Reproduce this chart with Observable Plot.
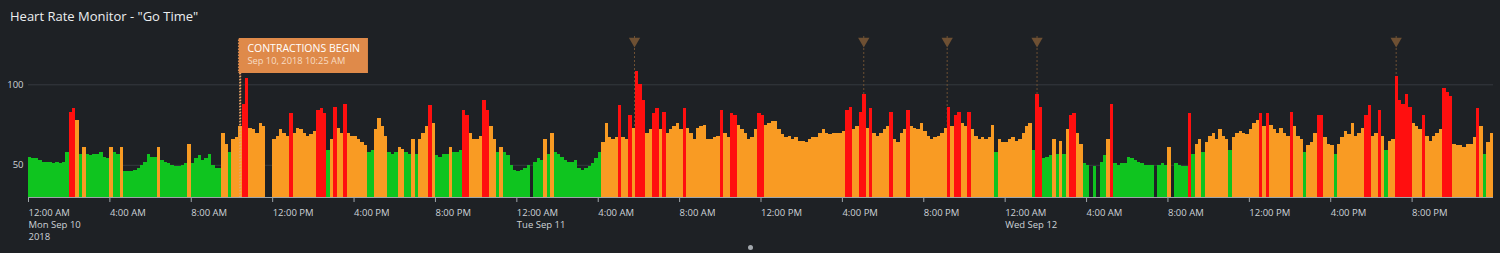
<!DOCTYPE html>
<html>
<head>
<meta charset="utf-8">
<script src="https://cdn.jsdelivr.net/npm/d3@7"></script>
<script src="https://cdn.jsdelivr.net/npm/@observablehq/plot@0.6"></script>
<style>
  html, body { margin: 0; padding: 0; background: #1e2125; }
  #chart { position: relative; width: 1500px; height: 253px; overflow: hidden; }
</style>
</head>
<body>
<div id="chart"></div>
<script>
// Heart rate, 10-minute buckets starting Mon Sep 10 2018 12:00 AM (null = no data)
const sep10 = [
  55,54,54,53,52,52,   // 0h
  52,51,52,51,52,58,   // 1h
  83,85,78,57,61,57,   // 2h
  56,57,57,58,55,54,   // 3h
  61,58,57,61,46,46,   // 4h
  46,47,48,50,52,57,   // 5h
  55,55,61,53,52,51,   // 6h
  50,49,49,50,51,63,   // 7h
  51,54,56,53,54,57,   // 8h
  50,48,48,70,63,58,   // 9h
  66,67,74,88,104,73,  // 10h
  72,70,76,74,null,null, // 11h
  66,68,72,70,68,82,   // 12h
  70,73,72,70,68,69,   // 13h
  71,84,85,82,59,66,   // 14h
  86,73,70,88,70,68,   // 15h
  68,66,64,62,58,59,   // 16h
  72,79,74,68,58,57,   // 17h
  58,61,60,58,57,66,   // 18h
  57,66,70,74,87,76,   // 19h
  56,55,57,57,61,58,   // 20h
  58,59,84,81,70,66,   // 21h
  66,68,90,84,74,66,   // 22h
  58,61,58,56,50,47    // 23h
];
const sep11 = [
  46,47,48,50,null,52, // 0h
  54,53,66,57,70,58,   // 1h
  57,55,53,52,52,53,   // 2h
  48,47,48,49,51,54,   // 3h
  58,64,76,67,66,67,   // 4h
  87,67,66,81,73,108,  // 5h
  100,90,70,72,82,85,  // 6h
  72,83,70,72,74,76,   // 7h
  72,85,73,70,66,73,   // 8h
  74,75,66,66,67,68,   // 9h
  84,70,67,82,81,75,   // 10h
  72,70,66,67,72,82,   // 11h
  81,75,76,77,77,72,   // 12h
  69,67,68,66,67,65,   // 13h
  65,64,66,67,67,70,   // 14h
  72,70,69,70,70,70,   // 15h
  71,84,86,72,74,83,   // 16h
  94,73,85,70,68,70,   // 17h
  72,74,83,66,64,70,   // 18h
  72,84,74,73,72,76,   // 19h
  71,68,66,67,68,70,   // 20h
  73,86,74,81,83,76,   // 21h
  74,83,72,68,66,67,   // 22h
  66,67,75,58,66,64    // 23h
];
const sep12 = [
  64,66,67,65,66,70,   // 0h
  74,76,59,94,86,54,   // 1h
  55,56,66,57,65,57,   // 2h
  72,81,82,70,63,51,   // 3h
  50,null,49,null,52,56, // 4h
  66,88,51,50,51,51,   // 5h
  55,54,53,52,51,50,   // 6h
  50,50,null,50,51,50, // 7h
  61,null,51,50,49,49, // 8h
  82,57,63,66,58,64,   // 9h
  68,70,66,72,68,66,   // 10h
  59,67,70,71,70,69,   // 11h
  72,76,78,82,74,82,   // 12h
  75,72,70,73,70,68,   // 13h
  83,74,68,66,58,62,   // 14h
  64,70,81,81,67,63,   // 15h
  62,57,63,67,71,69,   // 16h
  76,68,70,73,81,87,   // 17h
  68,70,84,68,59,65,   // 18h
  66,105,90,88,94,86,  // 19h
  76,74,72,81,68,65,   // 20h
  68,70,72,98,95,93,   // 21h
  63,62,62,61,63,63,   // 22h
  67,85,74,57,64,70    // 23h
];

const levelNames = ["normal", "elevated", "high"];
const levelColors = ["#0fc41f", "#f99b23", "#ff0f0f"];
const levelThresholds = [60, 80];

const yTicks = [50, 100];
const markerTimes = ["2018-09-11T05:47Z", "2018-09-11T17:03Z", "2018-09-11T21:09Z", "2018-09-12T01:34Z", "2018-09-12T19:13Z"];
const contractionTime = "2018-09-10T10:25Z";
const contractionLabel = "CONTRACTIONS BEGIN";
const contractionSub = "Sep 10, 2018 10:25 AM";
const titleText = 'Heart Rate Monitor - "Go Time"';

const startTime = new Date(Date.UTC(2018, 8, 10));
const endTime = new Date(Date.UTC(2018, 8, 13));
const step = 10 * 60 * 1000;
const values = [...sep10, ...sep11, ...sep12];
const data = values.map((v, i) => ({
  t0: new Date(+startTime + i * step),
  t1: new Date(+startTime + (i + 1) * step),
  v,
  level: v == null ? null : v >= levelThresholds[1] ? "high" : v >= levelThresholds[0] ? "elevated" : "normal"
})).filter(d => d.v != null);

const markers = markerTimes.map(s => new Date(s));
const cTime = new Date(contractionTime);
const xTicks = d3.utcHours(startTime, endTime, 4);
const fmtTime = d3.utcFormat("%-I:%M %p");
const fmtDay = d3.utcFormat("%a %b %-d");
const tickFmt = d => {
  let s = fmtTime(d);
  if (d.getUTCHours() === 0) {
    s += "\n" + fmtDay(d);
    if (+d === +startTime) s += "\n" + d.getUTCFullYear();
  }
  return s;
};

const plot = Plot.plot({
  width: 1500,
  height: 253,
  marginLeft: 28,
  marginRight: 7,
  marginTop: 36,
  marginBottom: 56,
  style: { background: "#1e2125", color: "#cdd2d7", fontFamily: "'Open Sans', sans-serif", fontSize: "9.5px" },
  x: { type: "utc", domain: [startTime, endTime], label: null },
  y: { domain: [30, 130], label: null },
  color: { domain: levelNames, range: levelColors },
  marks: [
    Plot.gridY(yTicks, { stroke: "#353a3f", strokeOpacity: 1 }),
    Plot.ruleX(markers, { stroke: "#6e5033", strokeDasharray: "2,2", strokeWidth: 1 }),
    Plot.rectY(data, { x1: "t0", x2: "t1", y1: 30, y2: "v", fill: "level", shapeRendering: "crispEdges" }),
    Plot.ruleY([30], { stroke: "#9ea4a9" }),
    Plot.axisY({ ticks: yTicks, tickSize: 0, tickPadding: 5, fontSize: 9.5, label: null }),
    Plot.axisX({ ticks: xTicks, tickFormat: tickFmt, tickSize: 5, tickPadding: 5, textAnchor: "start", lineHeight: 1.26, stroke: "#9ea4a9", fontSize: 9.5, label: null }),
    Plot.ruleX([cTime], { stroke: "#e9a266", strokeDasharray: "1.5,1.5", strokeWidth: 1.5, y1: 30, y2: 110 }),
    Plot.dot(markers, { x: d => d, frameAnchor: "top", dy: 4.5, symbol: "triangle", rotate: 180, r: 4.2, fill: "#6e5033", stroke: "none" })
  ]
});

// annotation box & title, positioned through the plot's own x scale
const xs = plot.scale("x");
const px = xs.apply(cTime);
const svg = d3.select(plot);
const g = svg.append("g").attr("text-anchor", "start");
g.append("rect").attr("x", px - 2).attr("y", 38).attr("width", 130).attr("height", 35).attr("fill", "#df8a4a");
g.append("line").attr("x1", px - 2).attr("x2", px - 2).attr("y1", 38).attr("y2", 73)
  .attr("stroke", "#1e2125").attr("stroke-width", 1.6).attr("stroke-dasharray", "1.5,1.5");
g.append("line").attr("x1", px).attr("x2", px).attr("y1", 73).attr("y2", 197)
  .attr("stroke", "#e9a266").attr("stroke-width", 1.5).attr("stroke-dasharray", "1.5,1.5");
g.append("text").attr("x", px + 7.5).attr("y", 52.3).attr("fill", "#ffffff").attr("text-anchor", "start")
  .attr("font-family", "'Open Sans', sans-serif").attr("font-size", 10.5).text(contractionLabel);
g.append("text").attr("x", px + 7.5).attr("y", 64.2).attr("fill", "#f7dcc3").attr("text-anchor", "start")
  .attr("font-family", "'Open Sans', sans-serif").attr("font-size", 9.3).text(contractionSub);
svg.append("text").attr("x", 10).attr("y", 20.5).attr("fill", "#eceef0").attr("text-anchor", "start")
  .attr("font-family", "'Open Sans', sans-serif").attr("font-size", 13).text(titleText);
svg.append("circle").attr("cx", 750.5).attr("cy", 247.5).attr("r", 2.5).attr("fill", "#a3a8ad");

document.getElementById("chart").appendChild(plot);
</script>
</body>
</html>
